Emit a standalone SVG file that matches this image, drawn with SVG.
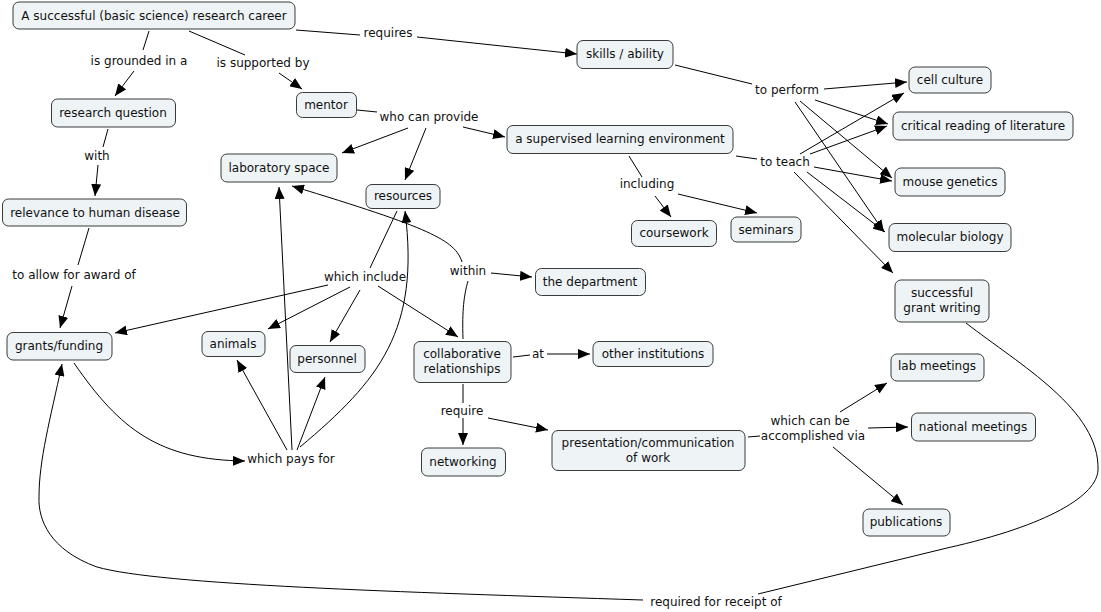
<svg xmlns="http://www.w3.org/2000/svg" width="1101" height="612" viewBox="0 0 1101 612">
<style>
  .node rect { fill: #eef3f6; stroke: #3a3a3a; stroke-width: 1; }
  text { font-family: "DejaVu Sans", Verdana, sans-serif; font-size: 12px; fill: #111; text-anchor: middle; }
  #connectors path { fill: none; stroke: #000; stroke-width: 1; }
  #connectors path.a { marker-end: url(#arrow); }
</style>
<defs>
  <marker id="arrow" viewBox="0 0 12 10" refX="12" refY="5" markerWidth="12" markerHeight="10" markerUnits="userSpaceOnUse" orient="auto">
    <path d="M0,0 L12,5 L0,10 z" fill="#000"/>
  </marker>
</defs>
<rect width="1101" height="612" fill="#fff"/>
<g id="connectors">
  <path d="M296,30 L360,35"/>
  <path class="a" d="M417,37 L577,54"/>
  <path d="M149,31 L143,50"/>
  <path class="a" d="M134,71 L115,96"/>
  <path d="M189,31 L245,55"/>
  <path class="a" d="M279,73 L302,89"/>
  <path d="M675,65 L752,84"/>
  <path class="a" d="M824,89 L907,82"/>
  <path class="a" d="M815,100 L888,124"/>
  <path class="a" d="M800,101 L892,178"/>
  <path class="a" d="M795,102 L884,232"/>
  <path d="M736,156 L757,159"/>
  <path class="a" d="M800,154 L904,93"/>
  <path class="a" d="M810,154 L887,126"/>
  <path class="a" d="M814,167 L892,181"/>
  <path class="a" d="M807,172 L885,232"/>
  <path class="a" d="M794,172 L893,273"/>
  <path d="M357,110 L377,112"/>
  <path class="a" d="M408,128 L342,153"/>
  <path class="a" d="M426,128 L405,180"/>
  <path class="a" d="M463,127 L505,137"/>
  <path d="M629,156 L642,177"/>
  <path class="a" d="M655,196 L671,217"/>
  <path class="a" d="M678,194 L757,213"/>
  <path d="M108,129 L103,147"/>
  <path class="a" d="M98,165 L95,196"/>
  <path d="M89,228 L78,265"/>
  <path class="a" d="M72,286 L60,328"/>
  <path d="M397,211 L370,268"/>
  <path class="a" d="M328,285 L115,333"/>
  <path class="a" d="M350,287 L268,329"/>
  <path class="a" d="M360,290 L330,342"/>
  <path class="a" d="M378,286 L458,337"/>
  <path d="M463,339 C462,310 464,295 468,281"/>
  <path class="a" d="M491,273 L532,277"/>
  <path class="a" d="M462,262 C455,240 430,228 292,186"/>
  <path d="M513,357 L530,355"/>
  <path class="a" d="M547,354 L590,354"/>
  <path d="M463,384 L463,403"/>
  <path class="a" d="M463,418 L463,445"/>
  <path class="a" d="M488,418 L548,430"/>
  <path d="M748,437 L760,436"/>
  <path class="a" d="M840,412 L887,383"/>
  <path class="a" d="M868,428 L908,427"/>
  <path class="a" d="M833,447 L903,505"/>
  <path class="a" d="M74,363 C120,430 160,460 245,461"/>
  <path class="a" d="M287,450 L237,360"/>
  <path class="a" d="M297,450 L325,377"/>
  <path class="a" d="M292,450 L279,187"/>
  <path class="a" d="M300,447 C380,380 420,330 405,211"/>
  <path d="M966,323 C1020,365 1100,410 1098,470 C1097,495 1050,525 947,548 L758,594"/>
  <path class="a" d="M643,600 C400,592 160,585 97,567 C50,550 38,520 39,497 C39,460 50,420 62,364"/>
</g>
<g id="labels">
  <text x="388" y="37">requires</text>
  <text x="139" y="65">is grounded in a</text>
  <text x="263" y="67">is supported by</text>
  <text x="97" y="160">with</text>
  <text x="429" y="121">who can provide</text>
  <text x="647" y="188">including</text>
  <text x="787" y="94">to perform</text>
  <text x="785" y="166">to teach</text>
  <text x="74" y="279">to allow for award of</text>
  <text x="365" y="281">which include</text>
  <text x="468" y="275">within</text>
  <text x="538" y="358">at</text>
  <text x="462" y="415">require</text>
  <text x="291" y="463">which pays for</text>
  <text x="810" y="425">which can be</text>
  <text x="813" y="440">accomplished via</text>
  <text x="716" y="606">required for receipt of</text>
</g>
<g id="n1" class="node"><rect x="13" y="2" width="282" height="27" rx="6"/><text x="154" y="20">A successful (basic science) research career</text></g>
<g id="n2" class="node"><rect x="577" y="40.5" width="96" height="28" rx="6"/><text x="625" y="58">skills / ability</text></g>
<g id="n3" class="node"><rect x="51.5" y="99" width="124" height="28" rx="6"/><text x="113" y="117">research question</text></g>
<g id="n4" class="node"><rect x="296.5" y="92.5" width="60" height="25" rx="6"/><text x="326" y="109">mentor</text></g>
<g id="n5" class="node"><rect x="221" y="154" width="116" height="28" rx="6"/><text x="279" y="172">laboratory space</text></g>
<g id="n6" class="node"><rect x="366" y="184.5" width="74" height="24" rx="6"/><text x="403" y="200">resources</text></g>
<g id="n7" class="node"><rect x="507" y="125.5" width="226" height="28" rx="6"/><text x="620" y="143">a supervised learning environment</text></g>
<g id="n8" class="node"><rect x="909" y="67" width="82" height="26" rx="6"/><text x="950" y="84">cell culture</text></g>
<g id="n9" class="node"><rect x="893" y="112" width="180" height="28" rx="6"/><text x="983" y="130">critical reading of literature</text></g>
<g id="n10" class="node"><rect x="895" y="168" width="110" height="28" rx="6"/><text x="950" y="186">mouse genetics</text></g>
<g id="n11" class="node"><rect x="889" y="223.5" width="122" height="28" rx="6"/><text x="950" y="241">molecular biology</text></g>
<g id="n12" class="node"><rect x="895" y="280" width="94" height="42" rx="6"/><text x="942" y="297">successful</text><text x="942" y="312">grant writing</text></g>
<g id="n13" class="node"><rect x="631.5" y="220.5" width="85" height="26" rx="6"/><text x="674" y="237">coursework</text></g>
<g id="n14" class="node"><rect x="731" y="217" width="70" height="25" rx="6"/><text x="766" y="234">seminars</text></g>
<g id="n15" class="node"><rect x="2.5" y="199" width="184" height="27" rx="6"/><text x="95" y="217">relevance to human disease</text></g>
<g id="n16" class="node"><rect x="535.5" y="268.5" width="110" height="27" rx="6"/><text x="590" y="286">the department</text></g>
<g id="n17" class="node"><rect x="7" y="332.5" width="105" height="27.5" rx="6"/><text x="59" y="350">grants/funding</text></g>
<g id="n18" class="node"><rect x="202" y="331.5" width="63" height="25" rx="6"/><text x="233" y="348">animals</text></g>
<g id="n19" class="node"><rect x="290" y="345.5" width="75" height="27" rx="6"/><text x="327" y="363">personnel</text></g>
<g id="n20" class="node"><rect x="414" y="341.5" width="97" height="41" rx="6"/><text x="462" y="358">collaborative</text><text x="462" y="373">relationships</text></g>
<g id="n21" class="node"><rect x="593" y="341.5" width="120" height="25" rx="6"/><text x="653" y="358">other institutions</text></g>
<g id="n22" class="node"><rect x="421.5" y="448" width="84" height="28" rx="6"/><text x="463" y="466">networking</text></g>
<g id="n23" class="node"><rect x="552" y="430.5" width="193" height="40" rx="6"/><text x="648" y="447">presentation/communication</text><text x="648" y="462">of work</text></g>
<g id="n24" class="node"><rect x="891" y="354" width="93" height="27" rx="6"/><text x="937" y="370">lab meetings</text></g>
<g id="n25" class="node"><rect x="911.5" y="413" width="124" height="28" rx="6"/><text x="973" y="431">national meetings</text></g>
<g id="n26" class="node"><rect x="863" y="509" width="87" height="27" rx="6"/><text x="906" y="526">publications</text></g>
</svg>
